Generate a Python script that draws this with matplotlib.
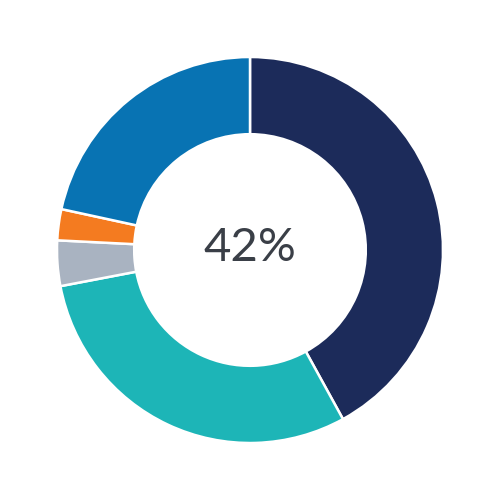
import matplotlib.pyplot as plt

# slice shares, clockwise from 12 o'clock
labels = ["A", "B", "C", "D", "E"]
values = [42.0, 30.0, 3.8, 2.6, 21.6]
colors = ["#1c2b5a", "#1db5b7", "#a9b3c1", "#f47b20", "#0873b3"]
center_label = "42%"

fig = plt.figure(figsize=(5, 5), dpi=100)
ax = fig.add_axes([0, 0, 1, 1])
ax.pie(values, colors=colors, startangle=90, counterclock=False, radius=1.0,
       wedgeprops=dict(width=0.40, edgecolor="white", linewidth=1.8))
lim = 250 / 193
ax.set_xlim(-lim, lim)
ax.set_ylim(-lim, lim)
ax.set_aspect("equal")
ax.axis("off")
ax.text(0, 0.01, center_label, ha="center", va="center", fontsize=34,
        color="#3a3f47", family="Lato")

fig.savefig("out.png", dpi=100, facecolor="white")
